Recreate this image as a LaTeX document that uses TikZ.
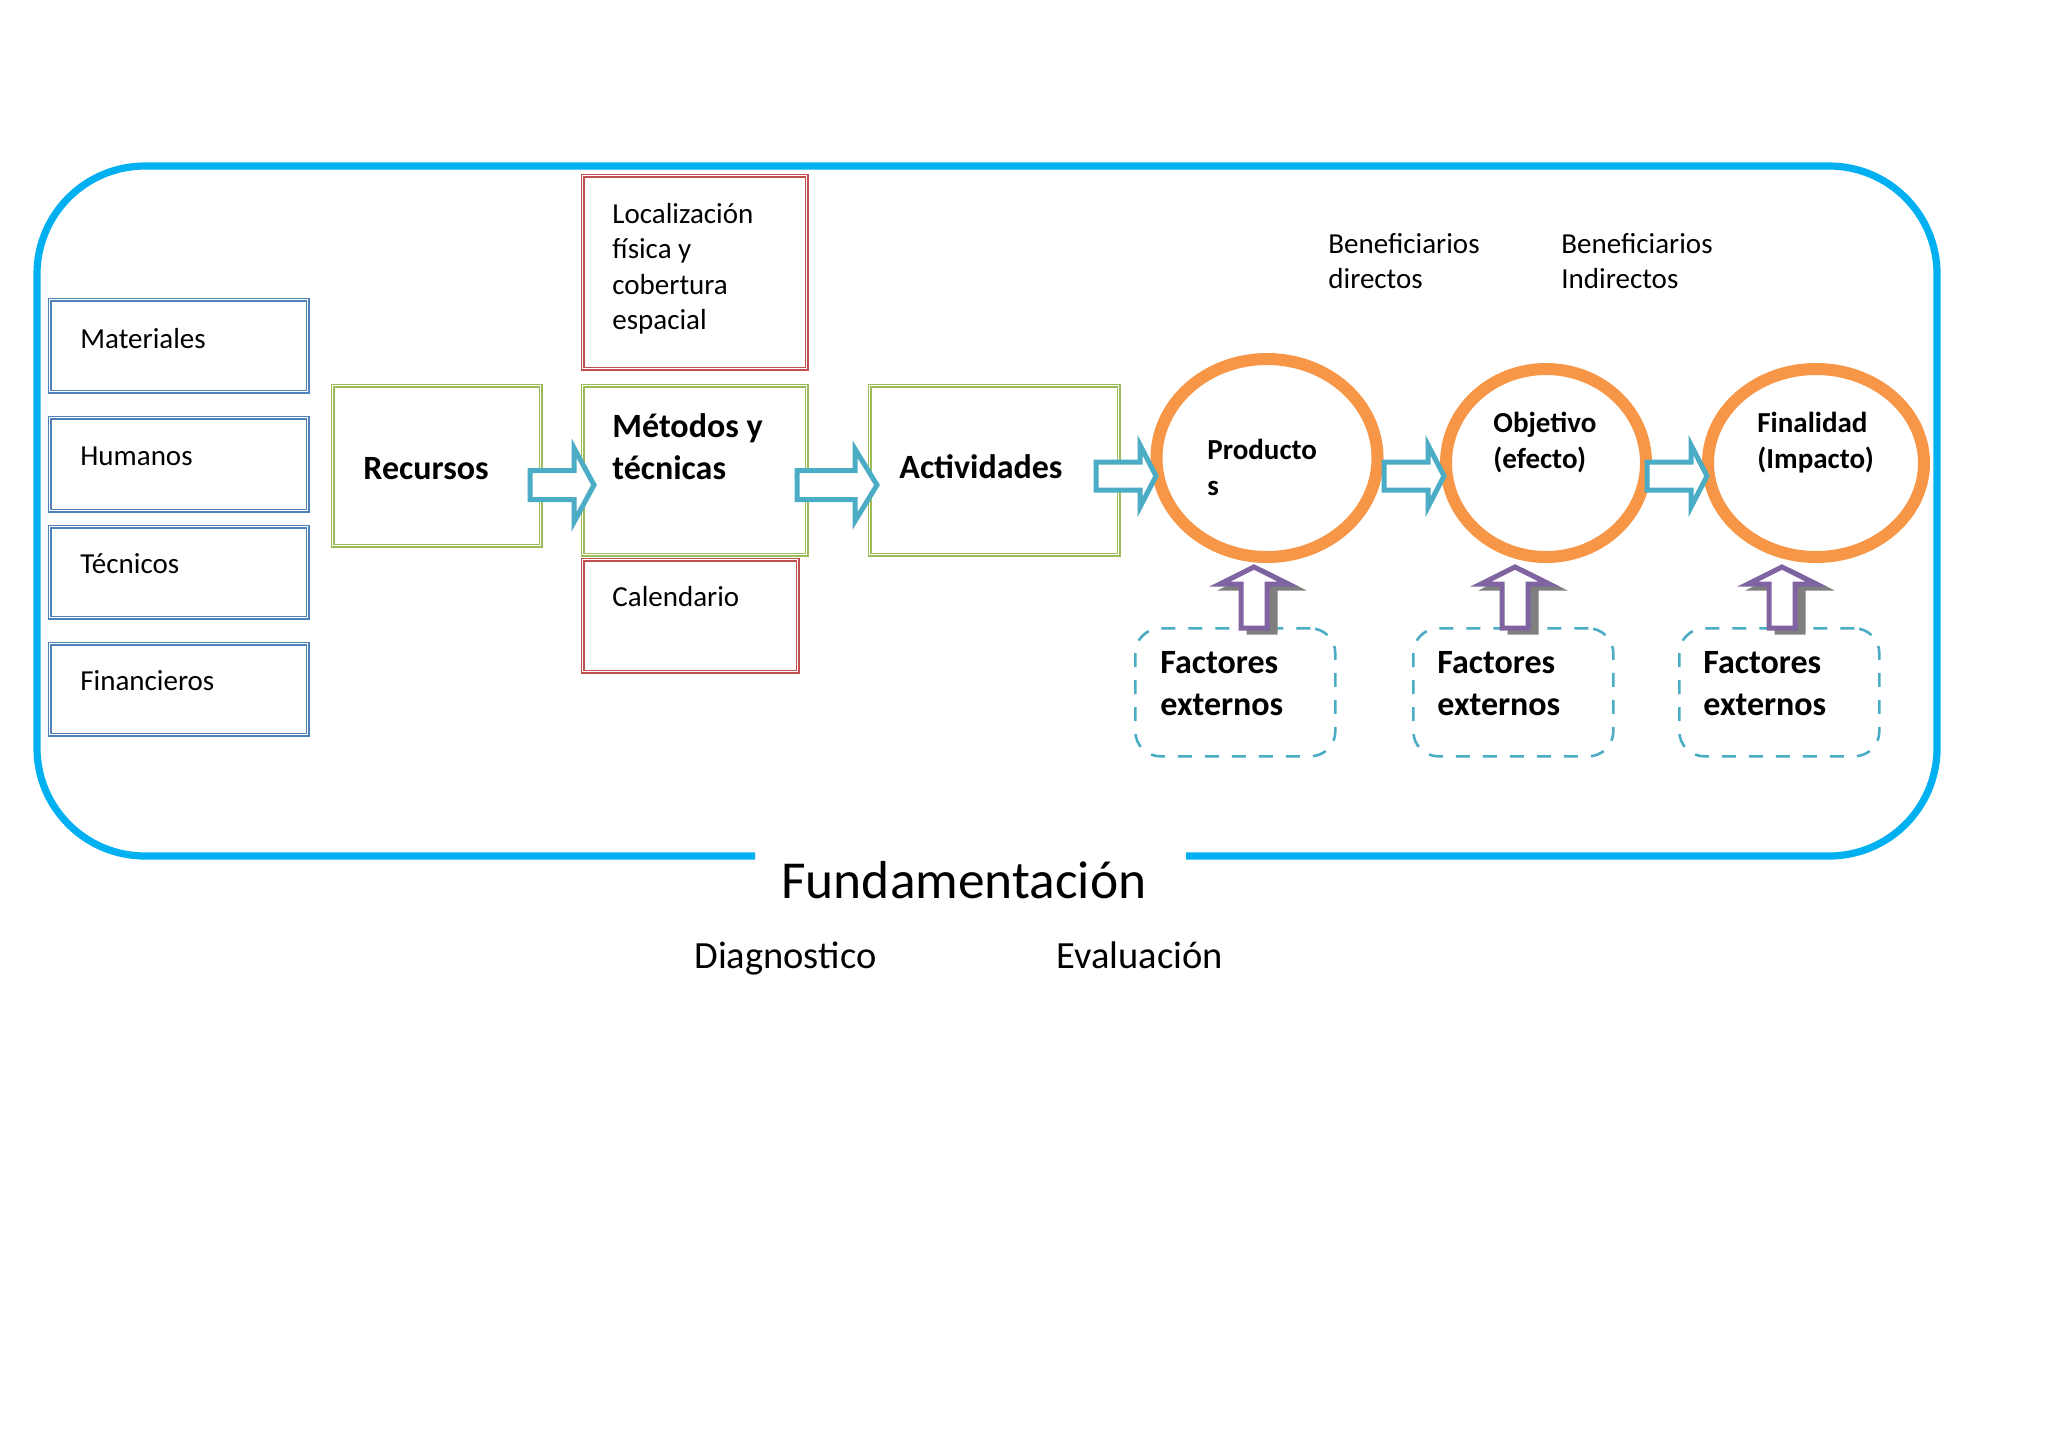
\documentclass[tikz,border=0pt]{standalone}
\usepackage{fontspec}
\setmainfont{Carlito}
\usetikzlibrary{shapes.geometric,calc}
\definecolor{boxblue}{HTML}{4F81BD}
\definecolor{boxgreen}{HTML}{9BBB59}
\definecolor{boxred}{HTML}{C0504D}
\definecolor{frameblue}{HTML}{00B0F0}
\definecolor{arrcyan}{HTML}{4BACC6}
\definecolor{ovalorange}{HTML}{F79646}
\definecolor{arrpurple}{HTML}{8064A2}
\definecolor{shadowgray}{HTML}{7F7F7F}

% block arrow pointing right: #1 start, #2 tip, #3 shaft half, #4 head half, #5 head length
\newcommand{\blockarr}[5]{%
  \draw[cyanarrow] let \p1=(#1), \p2=(#2) in
    (\x1,{\y1+#3}) -- ({\x2-#5},{\y1+#3}) -- ({\x2-#5},{\y1+#4}) -- (\x2,\y1)
    -- ({\x2-#5},{\y1-#4}) -- ({\x2-#5},{\y1-#3}) -- (\x1,{\y1-#3}) -- cycle;}
% block arrow pointing up with shadow: #1 bottom, #2 tip
\newcommand{\uparr}[2]{%
  \draw[shadowarrow] let \p1=(#1), \p2=(#2) in
    ({\x1-6.5pt+4pt},{\y1-2pt}) -- ({\x1-6.5pt+4pt},{\y2-8.5pt-2pt}) -- ({\x1-17pt+4pt},{\y2-8.5pt-2pt})
    -- ({\x1+4pt},{\y2-2pt}) -- ({\x1+17pt+4pt},{\y2-8.5pt-2pt}) -- ({\x1+6.5pt+4pt},{\y2-8.5pt-2pt})
    -- ({\x1+6.5pt+4pt},{\y1-2pt}) -- cycle;
  \draw[purplearrow] let \p1=(#1), \p2=(#2) in
    ({\x1-6.5pt},\y1) -- ({\x1-6.5pt},{\y2-8.5pt}) -- ({\x1-17pt},{\y2-8.5pt})
    -- (\x1,\y2) -- ({\x1+17pt},{\y2-8.5pt}) -- ({\x1+6.5pt},{\y2-8.5pt})
    -- ({\x1+6.5pt},\y1) -- cycle;}

\begin{document}
\begin{tikzpicture}[x=0.5pt,y=-0.5pt,
  rect/.style={rectangle, inner sep=0pt, anchor=north west, line width=0.6pt, double=white, double distance=0.8pt},
  bluebox/.style={rect, draw=boxblue, minimum width=129pt},
  greenbox/.style={rect, draw=boxgreen},
  redbox/.style={rect, draw=boxred},
  oval/.style={ellipse, draw=ovalorange, line width=6pt, inner sep=0pt, fill=white},
  extbox/.style={rectangle, anchor=north west, inner sep=0pt, draw=arrcyan, line width=1.3pt,
    dash pattern=on 7pt off 6.5pt, rounded corners=12.5pt, minimum width=100pt, minimum height=64pt},
  frame/.style={draw=frameblue, line width=3.6pt, rounded corners=54pt},
  cyanarrow/.style={draw=arrcyan, fill=white, line width=2.5pt, line join=miter},
  purplearrow/.style={draw=arrpurple, fill=white, line width=2.5pt, line join=miter},
  shadowarrow/.style={draw=shadowgray, fill=shadowgray, line width=2.5pt, line join=miter},
  treg/.style={font=\fontsize{14.5pt}{17.5pt}\selectfont, anchor=base west, inner sep=0pt},
  tbig/.style={font=\fontsize{17pt}{21pt}\selectfont\bfseries, anchor=base west, inner sep=0pt},
  tmid/.style={font=\fontsize{14.5pt}{18pt}\selectfont\bfseries, anchor=base west, inner sep=0pt},
]
\useasboundingbox (0,0) rectangle (2048,1447);
\fill[white] (0,0) rectangle (2048,1447);

% outer frame with gap at the bottom
\coordinate (gapR) at (1186,856);
\coordinate (gapL) at (755,856);
\draw[frame] (gapR) -- (1937,856) -- (1937,166) -- (37,166) -- (37,856) -- (gapL);

% resource boxes
\node[bluebox, minimum height=46pt] (mat) at (49,299) {};
\node[bluebox, minimum height=46.5pt] (hum) at (49,417) {};
\node[bluebox, minimum height=45.5pt] (tec) at (49,526) {};
\node[bluebox, minimum height=45.5pt] (fin) at (49,643) {};
\node[treg] (matt) at (80,348) {Materiales};
\node[treg] (humt) at (80,465) {Humanos};
\node[treg] (tect) at (80,573) {Técnicos};
\node[treg] (fint) at (80,690) {Financieros};

% main boxes
\node[greenbox, minimum width=104pt, minimum height=80pt] (rec) at (332,385) {};
\node[tbig] (rect) at (363,479) {Recursos};

\node[redbox, minimum width=112pt, minimum height=96.5pt] (loc) at (582,175) {};
\node[treg] (loc1) at (612,223) {Localización};
\node[treg] (loc2) at (612,258) {física y};
\node[treg] (loc3) at (612,294) {cobertura};
\node[treg] (loc4) at (612,329) {espacial};

\node[greenbox, minimum width=112pt, minimum height=84.5pt] (met) at (582,385) {};
\node[tbig] (met1) at (612,437) {Métodos y};
\node[tbig] (met2) at (612,479) {técnicas};

\node[redbox, minimum width=107.5pt, minimum height=56pt] (cal) at (582,559) {};
\node[treg] (calt) at (612,606) {Calendario};

\node[greenbox, minimum width=124.5pt, minimum height=84.5pt] (act) at (869,385) {};
\node[tbig] (actt) at (899,478) {Actividades};

% ovals
\node[oval, minimum width=110.5pt, minimum height=99pt] (prod) at (1267,458) {};
\node[oval, minimum width=100pt, minimum height=94pt] (obj) at (1546,463) {};
\node[oval, minimum width=108pt, minimum height=94pt] (finl) at (1816,463) {};
\node[tmid] (prod1) at (1207,459) {Producto};
\node[tmid] (prod2) at (1207,495) {s};
\node[tmid] (obj1) at (1493,432) {Objetivo};
\node[tmid] (obj2) at (1493,468) {(efecto)};
\node[tmid] (finl1) at (1757,432) {Finalidad};
\node[tmid] (finl2) at (1757,468) {(Impacto)};

% beneficiaries
\node[treg] (bd1) at (1328,253) {Beneficiarios};
\node[treg] (bd2) at (1328,288) {directos};
\node[treg] (bi1) at (1561,253) {Beneficiarios};
\node[treg] (bi2) at (1561,288) {Indirectos};

% external factors
\node[extbox] (ext1) at (1134,627) {};
\node[extbox] (ext2) at (1412,627) {};
\node[extbox] (ext3) at (1678,627) {};
\node[tbig] (ext1a) at (1160,673) {Factores};
\node[tbig] (ext1b) at (1160,715) {externos};
\node[tbig] (ext2a) at (1437,673) {Factores};
\node[tbig] (ext2b) at (1437,715) {externos};
\node[tbig] (ext3a) at (1703,673) {Factores};
\node[tbig] (ext3b) at (1703,715) {externos};

% flow arrows
\coordinate (a1s) at (530,485);  \coordinate (a1e) at (594,485);
\coordinate (a2s) at (797,485);  \coordinate (a2e) at (877,485);
\coordinate (a3s) at (1096,476); \coordinate (a3e) at (1156,476);
\coordinate (a4s) at (1384,476); \coordinate (a4e) at (1444,476);
\coordinate (a5s) at (1647,476); \coordinate (a5e) at (1707,476);
\blockarr{a1s}{a1e}{7.25pt}{18.5pt}{10pt}
\blockarr{a2s}{a2e}{7.25pt}{18pt}{11pt}
\blockarr{a3s}{a3e}{7pt}{15.5pt}{8pt}
\blockarr{a4s}{a4e}{7pt}{15.5pt}{8pt}
\blockarr{a5s}{a5e}{7pt}{15.5pt}{8pt}

% upward arrows from external factors
\coordinate (u1b) at (1254,628); \coordinate (u1e) at (1254,567);
\coordinate (u2s) at (1515,628); \coordinate (u2e) at (1515,567);
\coordinate (u3s) at (1782,628); \coordinate (u3e) at (1782,567);
\uparr{u1b}{u1e}
\uparr{u2s}{u2e}
\uparr{u3s}{u3e}

% bottom texts
\node[font=\fontsize{26.7pt}{32pt}\selectfont, anchor=base west, inner sep=0pt] (fund) at (781,898) {Fundamentación};
\node[font=\fontsize{19.25pt}{23pt}\selectfont, anchor=base west, inner sep=0pt] (diag) at (694,968) {Diagnostico};
\node[font=\fontsize{19.25pt}{23pt}\selectfont, anchor=base west, inner sep=0pt] (eval) at (1056,968) {Evaluación};
\end{tikzpicture}
\end{document}
